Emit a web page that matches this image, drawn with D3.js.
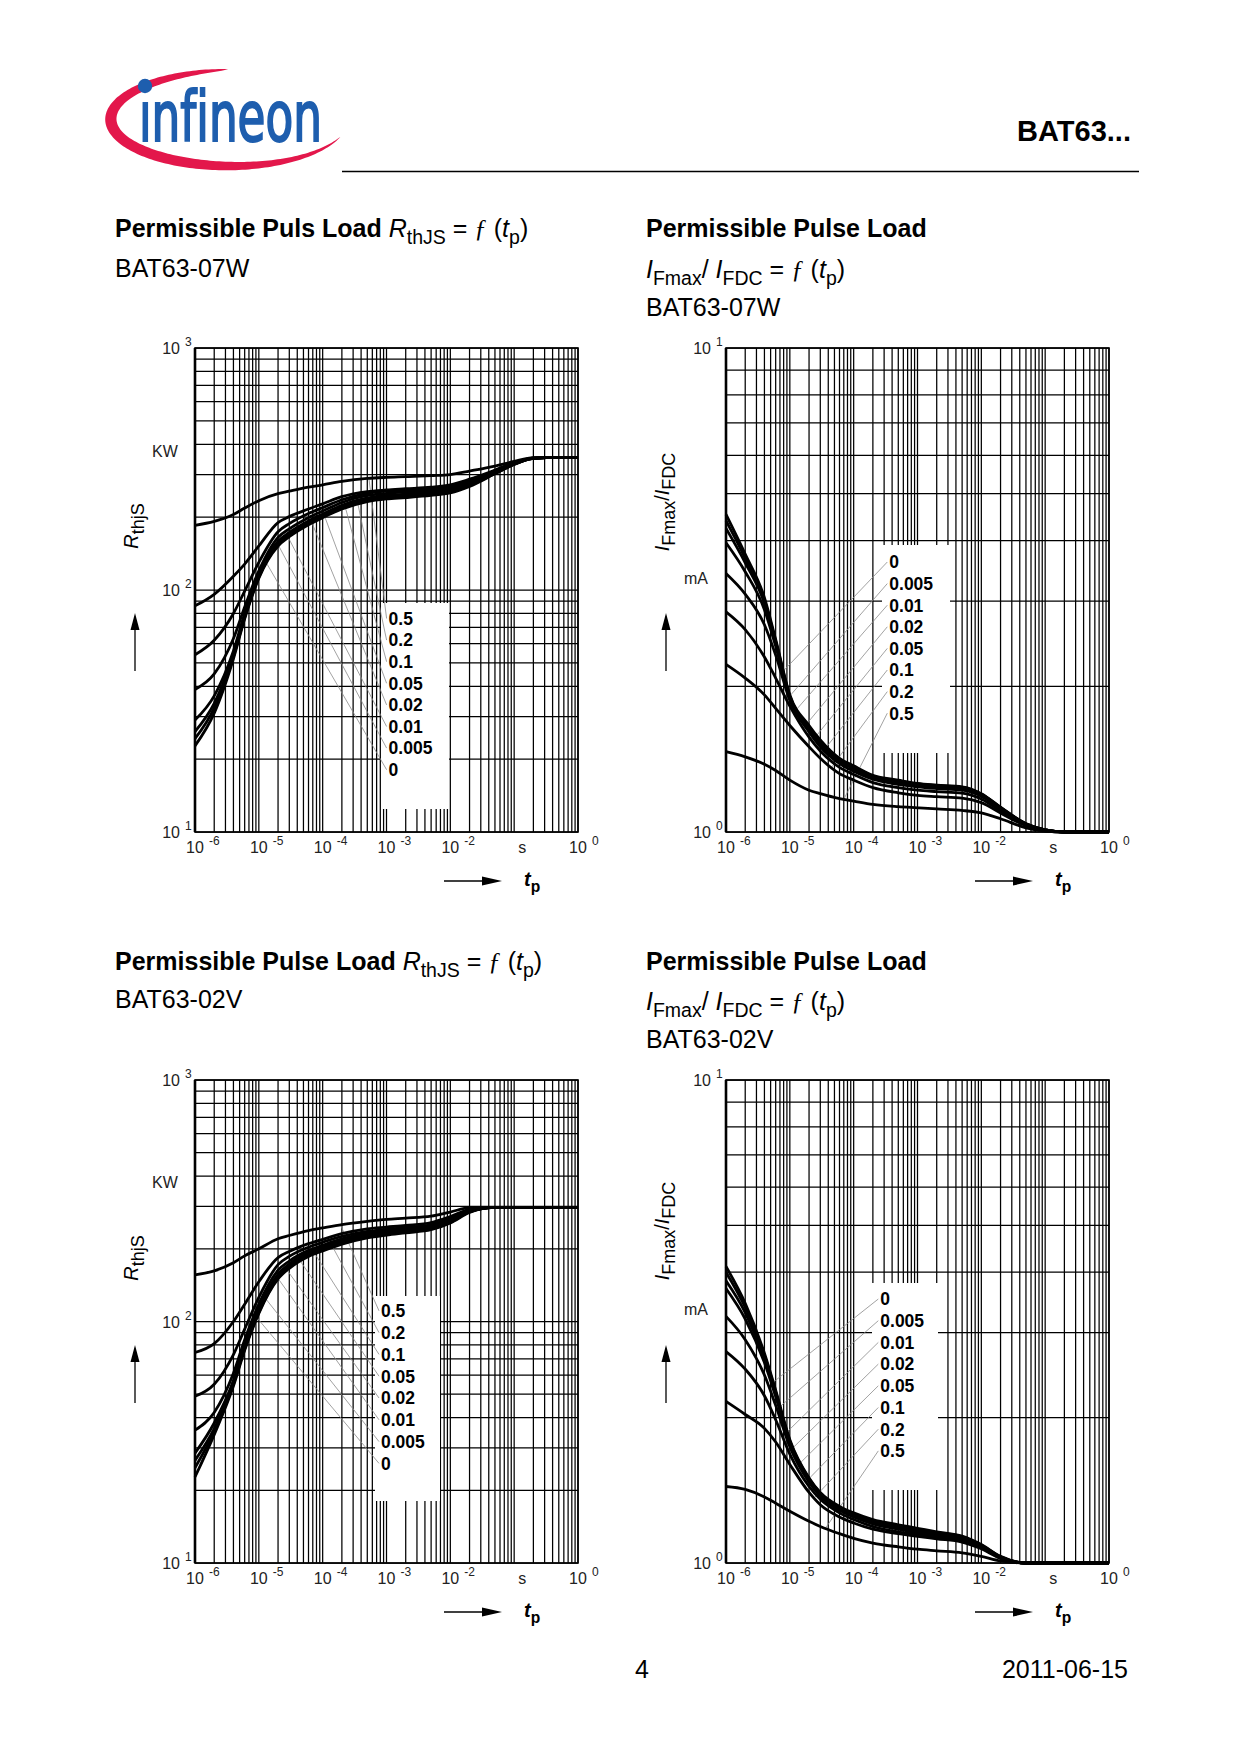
<!DOCTYPE html>
<html><head><meta charset="utf-8">
<script src="https://cdn.jsdelivr.net/npm/d3@7"></script>
<style>
html,body{margin:0;padding:0;background:#fff;}
svg{display:block;font-family:"Liberation Sans",Arial,Helvetica,sans-serif;}
text{white-space:pre;}
</style></head><body>
<svg id="page" width="1240" height="1754"></svg>
<script>
// ---------------- DATA ----------------
const tpValues = [1e-6, 2e-6, 4e-6, 6e-6, 1e-5, 2e-5, 3e-5, 6e-5, 1e-4, 2e-4, 5e-4, 1e-3, 2e-3, 5e-3, 1e-2, 2e-2, 5e-2, 1e-1, 2e-1, 5e-1, 1];
const dutyCycles = ["0", "0.005", "0.01", "0.02", "0.05", "0.1", "0.2", "0.5"];

// BAT63-07W  RthJS (K/W), one row per duty cycle (same order as dutyCycles)
const rth07W = [
  [22.7, 31, 52, 76, 112, 152, 166, 186, 199, 216, 232, 238, 241, 246, 252, 268, 302, 330, 350, 353, 353],
  [24.3, 32.5, 53, 77, 113, 154, 168, 188, 201, 218, 234, 240, 243, 248, 254, 270, 303, 331, 350, 353, 353],
  [26, 34, 54, 78, 114, 156, 170, 190, 203, 220, 236, 242, 245, 250, 256, 272, 304, 331, 350, 353, 353],
  [29, 36.5, 56, 80, 116, 159, 173, 193, 206, 224, 240, 246, 249, 254, 260, 276, 306, 332, 350, 353, 353],
  [38.8, 45, 63, 85, 120, 165, 179, 199, 212, 230, 246, 251, 254, 258, 264, 280, 308, 333, 351, 353, 353],
  [54, 62, 80, 99, 130, 174, 188, 207, 219, 236, 251, 256, 258, 262, 268, 283, 310, 334, 351, 353, 353],
  [86, 96, 114, 128, 152, 190, 201, 216, 227, 243, 255, 259, 262, 266, 272, 287, 313, 336, 351, 353, 353],
  [185, 192, 205, 218, 234, 250, 256, 266, 272, 281, 289, 292, 294, 297, 300, 310, 325, 340, 352, 353, 353]
];
// BAT63-07W  IFmax/IFDC
const ifm07W = [
  [4.53, 3.75, 3.05, 2.50, 1.92, 1.66, 1.55, 1.42, 1.37, 1.31, 1.28, 1.26, 1.25, 1.24, 1.20, 1.125, 1.04, 1.01, 1, 1, 1],
  [4.40, 3.68, 3.01, 2.48, 1.91, 1.65, 1.54, 1.415, 1.365, 1.305, 1.275, 1.257, 1.247, 1.237, 1.198, 1.124, 1.04, 1.01, 1, 1, 1],
  [4.24, 3.60, 2.97, 2.46, 1.90, 1.64, 1.53, 1.41, 1.36, 1.30, 1.27, 1.253, 1.243, 1.233, 1.195, 1.122, 1.04, 1.01, 1, 1, 1],
  [3.96, 3.45, 2.88, 2.42, 1.89, 1.63, 1.52, 1.40, 1.35, 1.295, 1.265, 1.248, 1.238, 1.228, 1.19, 1.12, 1.038, 1.01, 1, 1, 1],
  [3.42, 3.10, 2.68, 2.32, 1.87, 1.61, 1.50, 1.385, 1.335, 1.285, 1.255, 1.24, 1.23, 1.22, 1.185, 1.115, 1.036, 1.01, 1, 1, 1],
  [2.85, 2.62, 2.30, 2.08, 1.82, 1.57, 1.47, 1.36, 1.315, 1.265, 1.235, 1.22, 1.212, 1.203, 1.17, 1.105, 1.033, 1.008, 1, 1, 1],
  [2.22, 2.08, 1.92, 1.80, 1.66, 1.50, 1.42, 1.32, 1.28, 1.235, 1.205, 1.19, 1.183, 1.175, 1.15, 1.095, 1.03, 1.006, 1, 1, 1],
  [1.465, 1.43, 1.38, 1.34, 1.28, 1.22, 1.20, 1.172, 1.158, 1.14, 1.128, 1.122, 1.116, 1.108, 1.095, 1.065, 1.02, 1.004, 1, 1, 1]
];
// BAT63-02V  RthJS (K/W)
const rth02V = [
  [22.7, 34, 54, 76, 108, 150, 166, 186, 196, 209, 222, 228, 233, 240, 256, 283, 297, 297, 297, 297, 297],
  [24.8, 35, 55, 77, 109, 152, 168, 188, 198, 211, 224, 230, 235, 242, 258, 284, 297, 297, 297, 297, 297],
  [26.6, 36, 56, 78, 111, 154, 170, 190, 200, 213, 226, 232, 237, 244, 260, 285, 297, 297, 297, 297, 297],
  [28.5, 38, 57, 80, 113, 157, 173, 193, 203, 216, 229, 235, 239, 246, 262, 286, 297, 297, 297, 297, 297],
  [35.5, 42, 61, 84, 118, 163, 178, 197, 207, 220, 232, 238, 242, 249, 264, 287, 297, 297, 297, 297, 297],
  [49, 55, 73, 93, 126, 172, 186, 203, 213, 225, 236, 241, 245, 252, 267, 288, 297, 297, 297, 297, 297],
  [74.4, 81, 100, 118, 146, 184, 195, 210, 219, 231, 242, 246, 250, 257, 272, 291, 297, 297, 297, 297, 297],
  [156, 162, 175, 187, 200, 220, 227, 238, 244, 252, 260, 265, 268, 273, 284, 296, 297, 297, 297, 297, 297]
];
// BAT63-02V  IFmax/IFDC
const ifm02V = [
  [4.11, 3.45, 2.72, 2.28, 1.80, 1.50, 1.40, 1.31, 1.27, 1.23, 1.20, 1.18, 1.16, 1.137, 1.092, 1.032, 1, 1, 1, 1, 1],
  [4.00, 3.38, 2.69, 2.26, 1.79, 1.495, 1.395, 1.305, 1.265, 1.225, 1.195, 1.175, 1.155, 1.133, 1.089, 1.03, 1, 1, 1, 1, 1],
  [3.84, 3.30, 2.65, 2.24, 1.78, 1.49, 1.39, 1.30, 1.26, 1.22, 1.19, 1.17, 1.15, 1.13, 1.086, 1.029, 1, 1, 1, 1, 1],
  [3.70, 3.20, 2.60, 2.21, 1.77, 1.485, 1.385, 1.295, 1.255, 1.215, 1.185, 1.165, 1.145, 1.125, 1.083, 1.028, 1, 1, 1, 1, 1],
  [3.24, 2.90, 2.45, 2.12, 1.74, 1.47, 1.375, 1.285, 1.245, 1.205, 1.175, 1.155, 1.14, 1.12, 1.08, 1.026, 1, 1, 1, 1, 1],
  [2.74, 2.52, 2.22, 1.98, 1.68, 1.44, 1.355, 1.27, 1.23, 1.19, 1.16, 1.145, 1.13, 1.112, 1.076, 1.024, 1, 1, 1, 1, 1],
  [2.16, 2.03, 1.90, 1.78, 1.60, 1.40, 1.32, 1.245, 1.21, 1.175, 1.15, 1.135, 1.122, 1.105, 1.07, 1.022, 1, 1, 1, 1, 1],
  [1.44, 1.42, 1.37, 1.33, 1.28, 1.22, 1.19, 1.15, 1.125, 1.10, 1.08, 1.068, 1.06, 1.05, 1.032, 1.01, 1, 1, 1, 1, 1]
];
// pulse time on each curve where the label leader line starts (same order as dutyCycles)
const leader07WRth = [1.35e-5, 2e-5, 2.8e-5, 6.5e-5, 1e-4, 2.1e-4, 3.3e-4, 5.3e-4];
const leader07WIf  = [8e-6, 1e-5, 1.3e-5, 1.8e-5, 2.4e-5, 3.2e-5, 4.5e-5, 7e-5];
const leader02VRth = [9.4e-6, 1.3e-5, 1.95e-5, 2.6e-5, 4e-5, 6.4e-5, 1.2e-4, 1.9e-4];
const leader02VIf  = [5.5e-6, 7e-6, 9e-6, 1.1e-5, 1.4e-5, 1.8e-5, 2.4e-5, 3.6e-5];

// tick labels
const xDecadeExponents = ["-6", "-5", "-4", "-3", "-2"];
const xUnitLabel = "s";
const xLastExponent = "0";
const rthTickExponents = ["3", "2", "1"];
const ifTickExponents = ["1", "0"];

// ---------------- DRAWING ----------------
const svg = d3.select("#page");

function rich(parent, x, y, segs, size, opts = {}) {
  const subScale = opts.subScale || 0.78;
  const t = parent.append("text").attr("x", x).attr("y", y)
    .attr("font-size", size).attr("fill", opts.fill || "#000")
    .attr("text-anchor", opts.anchor || "start");
  let shift = 0;
  segs.forEach(s => {
    const sp = t.append("tspan").text(s.t);
    const target = s.sub ? size * 0.28 : (s.sup ? -size * 0.42 : 0);
    if (target !== shift) { sp.attr("dy", target - shift); shift = target; }
    if (s.sub || s.sup) sp.attr("font-size", size * subScale);
    if (s.bold) sp.attr("font-weight", "bold");
    if (s.italic) sp.attr("font-style", "italic");
    if (s.serif) sp.attr("font-family", "'Liberation Serif','DejaVu Serif',serif");
    if (s.dx) sp.attr("dx", s.dx);
  });
  return t;
}

// ---- Logo ----
(function logo() {
  const g = svg.append("g");
  const cx = 224, cy = 119, rx = 118, ry = 50, N = 160;
  const outer = [], inner = [];
  for (let i = 0; i <= N; i++) {
    const s = i / N;
    const a = (-88 - s * 252) * Math.PI / 180;
    const k = 1 + 0.05 * s * s;
    const w = 11.5 * Math.pow(Math.sin(Math.PI * Math.pow(s, 0.85)), 0.75);
    outer.push([cx + rx * k * Math.cos(a), cy + ry * k * Math.sin(a)]);
    inner.push([cx + (rx * k - w) * Math.cos(a), cy + (ry * k - w) * Math.sin(a)]);
  }
  g.append("path").attr("d", d3.line()(outer.concat(inner.reverse())) + "Z").attr("fill", "#E3174B");
  g.append("text").attr("x", 139).attr("y", 141)
    .attr("font-family", "'Liberation Sans Narrow','DejaVu Sans Condensed','Liberation Sans',sans-serif")
    .attr("font-size", 70).attr("fill", "#1E5EAE").attr("stroke", "#1E5EAE").attr("stroke-width", 2)
    .attr("textLength", 183).attr("lengthAdjust", "spacingAndGlyphs")
    .style("font-variant-ligatures", "none")
    .text("ınfineon");
  g.append("circle").attr("cx", 145).attr("cy", 86).attr("r", 7.2).attr("fill", "#1E5EAE");
})();

// header
svg.append("text").attr("x", 1131).attr("y", 141).attr("text-anchor", "end")
  .attr("font-size", 29).attr("font-weight", "bold").text("BAT63...");
svg.append("line").attr("x1", 342).attr("x2", 1139).attr("y1", 171.5).attr("y2", 171.5)
  .attr("stroke", "#000").attr("stroke-width", 1.3);

// titles
const TS = 25;
const fSeg = [{ t: " = " }, { t: "ƒ", italic: true, serif: true }, { t: " (" }, { t: "t", italic: true }, { t: "p", sub: true }, { t: ")" }];
rich(svg, 115, 237, [{ t: "Permissible Puls Load ", bold: true }, { t: "R", italic: true }, { t: "thJS", sub: true }].concat(fSeg), TS);
rich(svg, 115, 277, [{ t: "BAT63-07W" }], TS);
rich(svg, 646, 237, [{ t: "Permissible Pulse Load", bold: true }], TS);
rich(svg, 646, 278, [{ t: "I", italic: true }, { t: "Fmax", sub: true }, { t: "/ " }, { t: "I", italic: true }, { t: "FDC", sub: true }].concat(fSeg), TS);
rich(svg, 646, 316, [{ t: "BAT63-07W" }], TS);

rich(svg, 115, 970, [{ t: "Permissible Pulse Load ", bold: true }, { t: "R", italic: true }, { t: "thJS", sub: true }].concat(fSeg), TS);
rich(svg, 115, 1008, [{ t: "BAT63-02V" }], TS);
rich(svg, 646, 970, [{ t: "Permissible Pulse Load", bold: true }], TS);
rich(svg, 646, 1010, [{ t: "I", italic: true }, { t: "Fmax", sub: true }, { t: "/ " }, { t: "I", italic: true }, { t: "FDC", sub: true }].concat(fSeg), TS);
rich(svg, 646, 1048, [{ t: "BAT63-02V" }], TS);

// footer
svg.append("text").attr("x", 642).attr("y", 1678).attr("text-anchor", "middle").attr("font-size", 25).text("4");
svg.append("text").attr("x", 1128).attr("y", 1678).attr("text-anchor", "end").attr("font-size", 25).text("2011-06-15");

function valueAt(vals, t) {
  for (let i = 0; i < tpValues.length - 1; i++) {
    if (t >= tpValues[i] && t <= tpValues[i + 1]) {
      const f = Math.log(t / tpValues[i]) / Math.log(tpValues[i + 1] / tpValues[i]);
      return Math.exp(Math.log(vals[i]) + f * (Math.log(vals[i + 1]) - Math.log(vals[i])));
    }
  }
  return vals[vals.length - 1];
}

function drawChart(c) {
  const g = svg.append("g");
  const x = d3.scaleLog().domain([1e-6, 1]).range([c.left, c.left + c.w]);
  const y = d3.scaleLog().domain(c.yDomain).range([c.top + c.h, c.top]);
  const bottom = c.top + c.h, right = c.left + c.w;

  // grid
  const grid = g.append("g").attr("stroke", "#000").attr("stroke-width", 1.25);
  x.ticks().forEach(v => grid.append("line").attr("x1", x(v)).attr("x2", x(v)).attr("y1", c.top).attr("y2", bottom));
  y.ticks().forEach(v => grid.append("line").attr("x1", c.left).attr("x2", right).attr("y1", y(v)).attr("y2", y(v)));
  // label box covering the grid
  g.append("rect").attr("x", c.box[0]).attr("y", c.box[1]).attr("width", c.box[2]).attr("height", c.box[3]).attr("fill", "#fff");
  // frame
  g.append("rect").attr("x", c.left).attr("y", c.top).attr("width", c.w).attr("height", c.h)
    .attr("fill", "none").attr("stroke", "#000").attr("stroke-width", 1.6);
  g.append("line").attr("x1", c.left).attr("x2", c.left).attr("y1", c.top).attr("y2", bottom)
    .attr("stroke", "#000").attr("stroke-width", 2.6);

  // leader lines + labels
  c.labelOrder.forEach((lab, k) => {
    const di = dutyCycles.indexOf(lab);
    const cyLab = c.labelY0 + k * c.labelStep;
    const t = c.anchors[di];
    const v = valueAt(c.values[di], t);
    g.append("line").attr("x1", x(t)).attr("y1", y(v)).attr("x2", c.labelX - 2).attr("y2", cyLab)
      .attr("stroke", "#8a8a8a").attr("stroke-width", 0.8);
    g.append("text").attr("x", c.labelX).attr("y", cyLab + 6.3).attr("font-size", 17.5)
      .attr("font-weight", "bold").text(lab);
  });

  // curves
  const line = d3.line().x((d, i) => x(tpValues[i])).y(d => y(d)).curve(d3.curveMonotoneX);
  c.values.forEach(vals => {
    g.append("path").attr("d", line(vals)).attr("fill", "none").attr("stroke", "#000")
      .attr("stroke-width", 2.8).attr("stroke-linejoin", "round");
  });

  // x tick labels
  const xl = g.append("g").attr("font-size", 16).attr("fill", "#222");
  xDecadeExponents.forEach(e => {
    const xv = x(Math.pow(10, +e));
    xl.append("text").attr("x", xv).attr("y", bottom + 21).attr("text-anchor", "middle").text("10");
    xl.append("text").attr("x", xv + 14).attr("y", bottom + 13).attr("font-size", 12).text(e);
  });
  xl.append("text").attr("x", x(1e-1) + 8).attr("y", bottom + 21).attr("text-anchor", "middle").text(xUnitLabel);
  xl.append("text").attr("x", x(1)).attr("y", bottom + 21).attr("text-anchor", "middle").text("10");
  xl.append("text").attr("x", x(1) + 14).attr("y", bottom + 13).attr("font-size", 12).text(xLastExponent);

  // y tick labels
  c.yExps.forEach(e => {
    const yv = y(Math.pow(10, +e));
    xl.append("text").attr("x", c.left - 15).attr("y", yv + 6).attr("text-anchor", "end").text("10");
    xl.append("text").attr("x", c.left - 10).attr("y", yv - 2).attr("font-size", 12).text(e);
  });
  xl.append("text").attr("x", c.left - 30).attr("y", c.unitY + 6).attr("text-anchor", "middle").text(c.unit);

  // y title
  const yt = g.append("g").attr("transform", `translate(${c.yTitleX},${c.yTitleY}) rotate(-90)`);
  rich(yt, 0, 7, c.yTitle, 20, { anchor: "middle", subScale: 0.9 });
  // up arrow
  const ax = c.left - 60;
  g.append("line").attr("x1", ax).attr("x2", ax).attr("y1", c.arrowY + 58).attr("y2", c.arrowY + 10)
    .attr("stroke", "#000").attr("stroke-width", 1.3);
  g.append("path").attr("d", `M${ax},${c.arrowY} L${ax - 4.5},${c.arrowY + 17} L${ax + 4.5},${c.arrowY + 17} Z`).attr("fill", "#000");
  // tp arrow
  const ty = bottom + 49;
  g.append("line").attr("x1", c.left + 249).attr("x2", c.left + 295).attr("y1", ty).attr("y2", ty)
    .attr("stroke", "#000").attr("stroke-width", 1.3);
  g.append("path").attr("d", `M${c.left + 307},${ty} L${c.left + 287},${ty - 4.5} L${c.left + 287},${ty + 4.5} Z`).attr("fill", "#000");
  rich(g, c.left + 329, ty + 5, [{ t: "t", italic: true, bold: true }, { t: "p", sub: true, bold: true }], 20);
}

const rthTitle = [{ t: "R", italic: true }, { t: "thjS", sub: true }];
const ifTitle = [{ t: "I", italic: true }, { t: "Fmax", sub: true }, { t: "/" }, { t: "I", italic: true }, { t: "FDC", sub: true }];
const descOrder = dutyCycles.slice().reverse();
const ascOrder = dutyCycles.slice();

drawChart({ left: 195, top: 348, w: 383, h: 484, yDomain: [10, 1000], values: rth07W, yExps: rthTickExponents,
  labelOrder: descOrder, anchors: leader07WRth, box: [381, 603, 68, 206], labelX: 388.6, labelY0: 618.5, labelStep: 21.6,
  unit: "KW", unitY: 451, yTitle: rthTitle, yTitleX: 131, yTitleY: 526, arrowY: 613 });
drawChart({ left: 726, top: 348, w: 383, h: 484, yDomain: [1, 10], values: ifm07W, yExps: ifTickExponents,
  labelOrder: ascOrder, anchors: leader07WIf, box: [882, 545, 68, 208], labelX: 889.3, labelY0: 562, labelStep: 21.6,
  unit: "mA", unitY: 578, yTitle: ifTitle, yTitleX: 662, yTitleY: 502, arrowY: 613 });
drawChart({ left: 195, top: 1080, w: 383, h: 483, yDomain: [10, 1000], values: rth02V, yExps: rthTickExponents,
  labelOrder: descOrder, anchors: leader02VRth, box: [375, 1296, 65, 205], labelX: 381, labelY0: 1310.8, labelStep: 21.8,
  unit: "KW", unitY: 1182, yTitle: rthTitle, yTitleX: 131, yTitleY: 1258, arrowY: 1345 });
drawChart({ left: 726, top: 1080, w: 383, h: 483, yDomain: [1, 10], values: ifm02V, yExps: ifTickExponents,
  labelOrder: ascOrder, anchors: leader02VIf, box: [872, 1283, 66, 207], labelX: 880.3, labelY0: 1299, labelStep: 21.7,
  unit: "mA", unitY: 1309, yTitle: ifTitle, yTitleX: 662, yTitleY: 1231, arrowY: 1345 });
</script>
</body></html>
